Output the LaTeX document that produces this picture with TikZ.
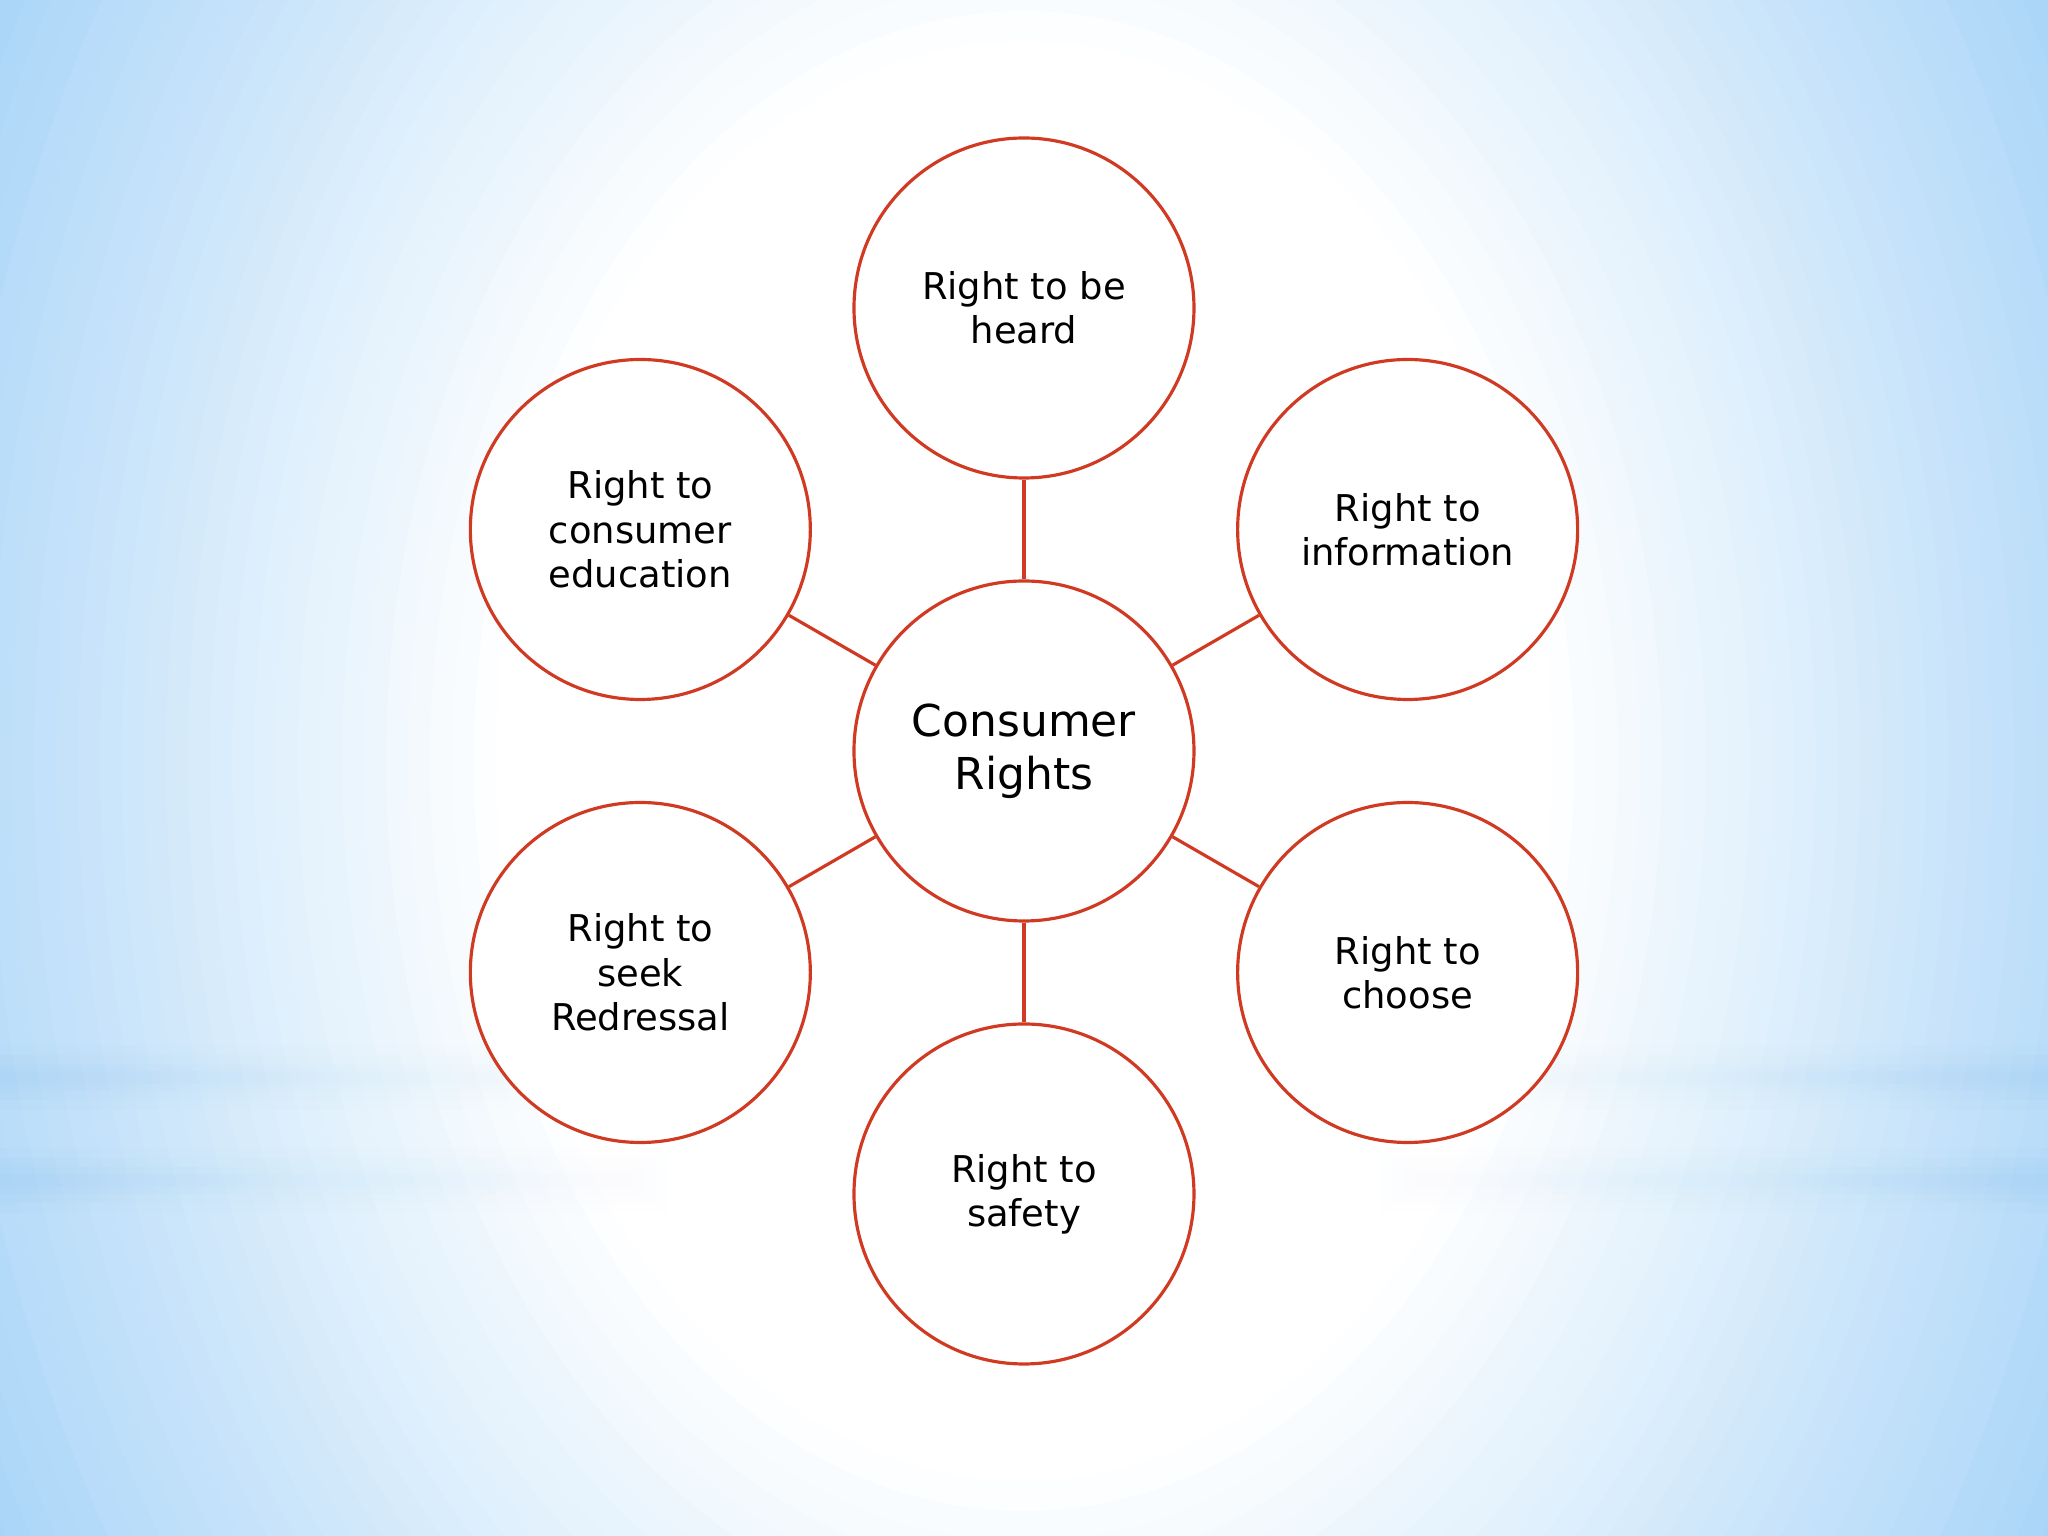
\documentclass[tikz,border=0pt]{standalone}
\usepackage{fontspec}
\setmainfont{DejaVu Sans}
\definecolor{bgblue}{RGB}{140,198,245}
\definecolor{rimred}{RGB}{208,58,34}

\begin{document}
\begin{tikzpicture}[topic/.style={
			circle,
			draw=rimred,
			fill=white,
			line width=0.9pt,
			minimum size=3.4cm,
			inner sep=0pt,
			align=center,
			font=\fontsize{10.5}{12.6}\selectfont
		}, hubnode/.style={topic, font=\fontsize{12.5}{15.2}\selectfont},
		spoke/.style={rimred, line width=0.9pt}]
		\useasboundingbox (-10.24,-7.85) rectangle (10.24,7.51);
		\begin{scope}
			\clip (-10.24,-7.85) rectangle (10.24,7.51);
			\fill[bgblue] (-10.24,-7.85) rectangle (10.24,7.51);
			\foreach \i in {0,...,40}{
				\pgfmathtruncatemacro\rr{64-\i}
				\pgfmathtruncatemacro\pct{(\rr-24)*2.5}
				\fill[bgblue!\pct!white] (0,-0.1) ellipse ({\rr*0.22} and {\rr*0.30});
			}
			\foreach \y in {-3.27,-4.30}{
				\foreach \h/\op in {0.32/0.05, 0.22/0.06, 0.13/0.07, 0.06/0.08}{
					\shade[left color=bgblue, right color=white, opacity=\op] (-10.24,\y-\h) rectangle (-3.5,\y+\h);
					\shade[left color=white, right color=bgblue, opacity=\op] (3.5,\y-\h) rectangle (10.24,\y+\h);
				}
			}
		\end{scope}
		
		\node[hubnode] (hub) at (0,0) {Consumer\\Rights};
		
		\node[topic] (heard) at (90:4.43cm) {Right to be\\heard};
		\node[topic] (info) at (30:4.43cm) {Right to\\information};
		\node[topic] (choose) at (-30:4.43cm) {Right to\\choose};
		\node[topic] (safety) at (-90:4.43cm) {Right to\\safety};
		\node[topic] (redress) at (210:4.43cm) {Right to\\seek\\Redressal};
		\node[topic] (educ) at (150:4.43cm) {Right to\\consumer\\education};
		
		\draw[spoke] (hub) -- (heard);
		\draw[spoke] (hub) -- (info);
		\draw[spoke] (hub) -- (choose);
		\draw[spoke] (hub) -- (safety);
		\draw[spoke] (hub) -- (redress);
		\draw[spoke] (hub) -- (educ);
	\end{tikzpicture}
\end{document}
